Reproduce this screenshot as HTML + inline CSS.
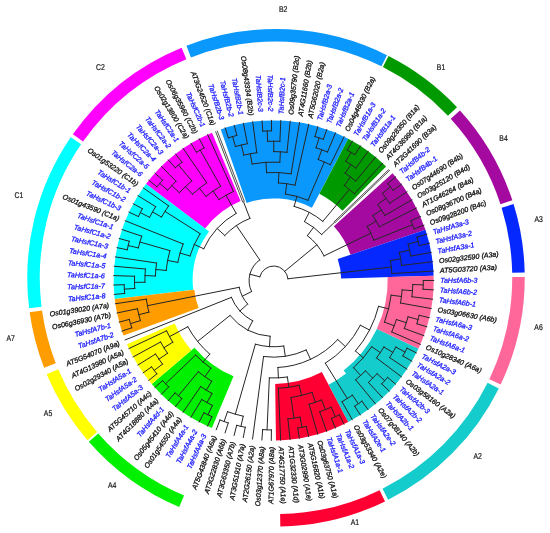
<!DOCTYPE html>
<html><head><meta charset="utf-8"><style>
html,body{margin:0;padding:0;background:#fff;}
body{width:550px;height:533px;overflow:hidden;}
svg{display:block;}
text{text-rendering:geometricPrecision;font-family:"Liberation Sans",Arial,sans-serif;font-size:7.1px;dominant-baseline:central;}
.k{fill:#111;stroke:#111;stroke-width:0.3px;font-style:italic;}
.b{fill:#2222ff;stroke:#2222ff;stroke-width:0.3px;font-style:italic;}
.i{font-style:italic;}
.e{text-anchor:end;}
.g{font-size:8.4px;fill:#111;stroke:#111;stroke-width:0.2px;text-anchor:middle;}
</style></head><body>
<svg width="550" height="533" viewBox="0 0 550 533">
<g><path d="M205.05 228.60L145.98 184.03A160.0 160.0 0 0 1 212.00 132.78L240.53 201.05A86 86 0 0 0 205.05 228.60Z" fill="#ff00ff"/><path d="M193.25 289.85L114.79 299.07A160.0 160.0 0 0 1 145.98 184.03L209.04 231.61A81 81 0 0 0 193.25 289.85Z" fill="#00ffff"/><path d="M246.57 203.02L220.77 129.41A160.0 160.0 0 0 1 348.28 138.85L311.92 207.85A82 82 0 0 0 246.57 203.02Z" fill="#0a98fc"/><path d="M319.38 193.70L348.28 138.85A160.0 160.0 0 0 1 386.06 166.49L342.52 210.63A98 98 0 0 0 319.38 193.70Z" fill="#009900"/><path d="M333.87 226.17L392.55 173.28A160.0 160.0 0 0 1 425.45 229.69L350.52 254.73A81 81 0 0 0 333.87 226.17Z" fill="#a50aa0"/><path d="M337.72 259.01L425.45 229.69A160.0 160.0 0 0 1 433.63 275.78L341.17 278.45A67.5 67.5 0 0 0 337.72 259.01Z" fill="#0528ff"/><path d="M387.65 277.11L433.63 275.78A160.0 160.0 0 0 1 418.40 348.68L376.80 329.05A114 114 0 0 0 387.65 277.11Z" fill="#ff6699"/><path d="M376.80 329.05L418.40 348.68A160.0 160.0 0 0 1 348.15 422.02L328.61 384.85A118 118 0 0 0 346.06 373.61L343.61 370.45A114 114 0 0 0 376.80 329.05Z" fill="#14cccc"/><path d="M321.86 372.01L348.15 422.02A160.0 160.0 0 0 1 275.97 440.38L275.17 383.89A103.5 103.5 0 0 0 321.86 372.01Z" fill="#ff0033"/><path d="M233.50 376.32L211.86 427.97A160.0 160.0 0 0 1 151.76 383.99L194.44 347.73A104 104 0 0 0 233.50 376.32Z" fill="#00f000"/><path d="M191.39 350.32L151.76 383.99A160.0 160.0 0 0 1 127.00 344.26L174.68 323.51A108 108 0 0 0 191.39 350.32Z" fill="#ffff00"/><path d="M198.60 307.97L123.50 335.54A160.0 160.0 0 0 1 114.79 299.07L194.25 289.74A80 80 0 0 0 198.60 307.97Z" fill="#ff9c00"/></g>
<g fill="none" stroke-width="12.5"><path d="M77.96 137.84A242.5 242.5 0 0 1 183.98 53.44" stroke="#ff00ff"/><path d="M188.70 51.56A242.5 242.5 0 0 1 384.20 60.78" stroke="#0a98fc"/><path d="M385.72 61.54A242.5 242.5 0 0 1 452.48 111.49" stroke="#009900"/><path d="M455.36 114.59A242.5 242.5 0 0 1 506.43 202.26" stroke="#a50aa0"/><path d="M507.59 205.89A242.5 242.5 0 0 1 518.45 272.72" stroke="#0528ff"/><path d="M518.50 276.95A242.5 242.5 0 0 1 495.06 381.82" stroke="#ff6699"/><path d="M493.21 385.62A242.5 242.5 0 0 1 385.34 494.25" stroke="#14cccc"/><path d="M382.31 495.76A242.5 242.5 0 0 1 280.23 520.26" stroke="#ff0033"/><path d="M181.64 501.19A242.5 242.5 0 0 1 93.54 437.53" stroke="#00f000"/><path d="M92.29 436.09A242.5 242.5 0 0 1 52.45 371.77" stroke="#ffff00"/><path d="M49.91 365.49A242.5 242.5 0 0 1 35.83 311.34" stroke="#ff9c00"/><path d="M35.33 307.56A242.5 242.5 0 0 1 75.91 140.80" stroke="#00ffff"/></g>
<path d="M259.76 276.79A14.400000000000006 14.400000000000006 0 0 1 288.01 278.77M259.76 276.79L249.69 274.19M259.75 259.90A24.799999999999983 24.799999999999983 0 0 0 251.56 291.57M259.75 259.90L236.35 225.50M224.78 235.50A66.39999999999999 66.39999999999999 0 0 1 249.90 218.41M224.78 235.50L217.12 228.47M203.73 248.75A76.8 76.8 0 0 1 236.17 213.40M203.73 248.75L194.25 244.46M189.99 255.97A87.2 87.2 0 0 1 200.08 233.66M189.99 255.97L180.01 253.05M183.14 244.00A97.6 97.6 0 0 0 177.78 262.37M183.14 244.00L125.24 220.73M177.78 262.37L167.56 260.45M169.89 250.62A108.0 108.0 0 0 0 166.16 270.45M169.89 250.62L139.90 242.01M138.34 247.94A139.2 139.2 0 0 1 141.72 236.16M138.34 247.94L128.22 245.52M127.26 249.80A149.6 149.6 0 0 1 129.31 241.26M127.26 249.80L117.08 247.67M129.31 241.26L119.27 238.54M141.72 236.16L122.00 229.55M166.16 270.45L155.80 269.50M155.38 276.00A118.4 118.4 0 0 1 156.58 263.03M155.38 276.00L144.99 275.61M144.91 282.23A128.8 128.8 0 0 1 145.40 269.01M144.91 282.23L134.51 282.38M134.74 288.50A139.2 139.2 0 0 1 134.56 276.25M134.74 288.50L124.35 289.11M124.67 293.49A149.6 149.6 0 0 1 124.16 284.72M124.67 293.49L114.31 294.40M124.16 284.72L113.77 285.02M134.56 276.25L113.77 275.63M145.40 269.01L114.33 266.25M156.58 263.03L115.43 256.92M200.08 233.66L164.96 211.37M161.56 217.04A128.8 128.8 0 0 1 168.65 205.87M161.56 217.04L152.51 211.93M149.61 217.33A139.2 139.2 0 0 1 155.64 206.66M149.61 217.33L140.34 212.62M138.40 216.56A149.6 149.6 0 0 1 142.38 208.73M138.40 216.56L129.00 212.12M142.38 208.73L133.26 203.75M155.64 206.66L138.00 195.64M168.65 205.87L143.20 187.82M236.17 213.40L226.00 195.25M218.92 199.62A97.6 97.6 0 0 1 233.43 191.49M218.92 199.62L213.08 191.02M205.92 196.32A108.0 108.0 0 0 1 220.66 186.32M205.92 196.32L199.39 188.22M192.51 194.22A118.4 118.4 0 0 1 206.71 182.78M192.51 194.22L185.38 186.65M179.38 192.68A128.8 128.8 0 0 1 191.76 181.02M179.38 192.68L171.77 185.60M167.69 190.18A139.2 139.2 0 0 1 176.04 181.21M167.69 190.18L159.77 183.44M156.98 186.83A149.6 149.6 0 0 1 162.67 180.14M156.98 186.83L148.86 180.32M162.67 180.14L154.95 173.17M176.04 181.21L161.45 166.38M191.76 181.02L178.53 164.98M175.18 167.82A149.6 149.6 0 0 1 181.96 162.23M175.18 167.82L168.33 159.99M181.96 162.23L175.58 154.02M206.71 182.78L183.17 148.48M220.66 186.32L200.23 150.08M196.44 152.30A149.6 149.6 0 0 1 204.09 147.98M196.44 152.30L191.07 143.39M204.09 147.98L199.25 138.78M233.43 191.49L207.69 134.65M249.90 218.41L243.60 201.98M251.56 291.57L242.27 296.25M239.19 287.31A35.19999999999999 35.19999999999999 0 0 0 247.62 304.04M239.19 287.31L147.41 305.70M148.88 312.15A128.8 128.8 0 0 1 146.28 299.18M148.88 312.15L138.80 314.72M140.44 320.62A139.2 139.2 0 0 1 137.42 308.74M140.44 320.62L130.48 323.63M131.81 327.81A149.6 149.6 0 0 1 129.27 319.41M131.81 327.81L121.95 331.11M129.27 319.41L119.23 322.12M137.42 308.74L117.05 312.98M146.28 299.18L115.41 303.73M247.62 304.04L239.91 311.02M231.37 297.37A45.599999999999994 45.599999999999994 0 0 0 252.67 320.86M231.37 297.37L125.19 339.93M252.67 320.86L247.87 330.09M230.01 315.43A56.0 56.0 0 0 0 270.14 336.29M230.01 315.43L197.55 341.45M187.81 326.76A97.6 97.6 0 0 0 209.76 354.14M187.81 326.76L169.51 336.64M172.76 342.29A118.4 118.4 0 0 1 166.57 330.83M172.76 342.29L163.90 347.73M167.50 353.28A128.8 128.8 0 0 1 160.59 342.00M167.50 353.28L158.93 359.16M162.50 364.14A139.2 139.2 0 0 1 155.57 354.03M162.50 364.14L154.20 370.40M156.89 373.86A149.6 149.6 0 0 1 151.61 366.85M156.89 373.86L148.77 380.36M151.61 366.85L143.12 372.86M155.57 354.03L137.92 365.04M160.59 342.00L133.18 356.92M166.57 330.83L128.94 348.54M209.76 354.14L202.95 362.00M195.63 355.03A108.0 108.0 0 0 0 210.89 368.25M195.63 355.03L165.57 383.78M168.65 386.91A149.6 149.6 0 0 1 162.58 380.56M168.65 386.91L161.34 394.31M162.58 380.56L154.85 387.52M210.89 368.25L204.84 376.71M198.29 371.68A118.4 118.4 0 0 0 211.72 381.28M198.29 371.68L178.42 395.74M181.85 398.48A149.6 149.6 0 0 1 175.08 392.89M181.85 398.48L175.46 406.69M175.08 392.89L168.22 400.71M211.72 381.28L206.27 390.14M200.72 386.53A128.8 128.8 0 0 0 212.00 393.46M200.72 386.53L183.05 412.24M212.00 393.46L207.01 402.59M201.70 399.53A139.2 139.2 0 0 0 212.46 405.40M201.70 399.53L190.94 417.33M212.46 405.40L207.88 414.74M203.97 412.75A149.6 149.6 0 0 0 211.85 416.62M203.97 412.75L199.12 421.95M211.85 416.62L207.55 426.09M270.14 336.29L269.48 346.67M255.39 344.23A66.39999999999999 66.39999999999999 0 0 0 283.76 346.03M255.39 344.23L235.31 414.20M243.23 416.22A139.2 139.2 0 0 1 227.53 411.72M243.23 416.22L240.96 426.37M245.25 427.27A149.6 149.6 0 0 1 236.68 425.35M245.25 427.27L243.28 437.48M236.68 425.35L234.11 435.42M227.53 411.72L224.08 421.53M228.24 422.93A149.6 149.6 0 0 1 219.95 420.01M228.24 422.93L225.08 432.83M219.95 420.01L216.22 429.72M283.76 346.03L285.33 356.31M263.55 356.53A76.8 76.8 0 0 0 306.19 349.99M263.55 356.53L252.55 439.00M306.19 349.99L310.58 359.42M277.90 367.50A87.2 87.2 0 0 0 337.77 339.55M277.90 367.50L278.40 377.89M269.36 377.90A97.6 97.6 0 0 0 287.40 377.03M269.36 377.90L267.04 429.85M271.43 429.98A149.6 149.6 0 0 1 262.66 429.59M271.43 429.98L271.28 440.38M262.66 429.59L261.89 439.96M287.40 377.03L288.86 387.33M278.40 388.30A108.0 108.0 0 0 0 299.17 385.35M278.40 388.30L280.67 440.25M299.17 385.35L301.62 395.46M290.96 397.53A118.4 118.4 0 0 0 312.05 392.42M290.96 397.53L294.00 418.11M287.91 418.87A139.2 139.2 0 0 0 300.04 417.09M287.91 418.87L290.04 439.56M300.04 417.09L302.01 427.30M306.31 426.40A149.6 149.6 0 0 1 297.68 428.06M306.31 426.40L308.58 436.55M297.68 428.06L299.35 438.33M312.05 392.42L315.42 402.26M309.10 404.24A128.8 128.8 0 0 0 321.62 399.95M309.10 404.24L317.68 434.24M321.62 399.95L325.49 409.61M319.75 411.76A139.2 139.2 0 0 0 331.13 407.20M319.75 411.76L326.63 431.39M331.13 407.20L335.42 416.68M339.39 414.80A149.6 149.6 0 0 1 331.39 418.43M339.39 414.80L343.96 424.15M331.39 418.43L335.40 428.02M337.77 339.55L345.41 346.61M325.33 363.23A97.6 97.6 0 0 0 360.38 325.26M325.33 363.23L347.33 398.53M352.46 395.17A139.2 139.2 0 0 1 342.06 401.66M352.46 395.17L358.35 403.75M361.93 401.21A149.6 149.6 0 0 1 354.69 406.18M361.93 401.21L368.07 409.61M354.69 406.18L360.32 414.93M342.06 401.66L352.28 419.78M360.38 325.26L369.62 330.04M355.43 351.00A108.0 108.0 0 0 0 378.54 306.35M355.43 351.00L363.30 357.80M371.75 346.77A118.4 118.4 0 0 1 353.61 367.76M371.75 346.77L380.36 352.60M383.93 347.02A128.8 128.8 0 0 1 376.52 357.98M383.93 347.02L392.83 352.40M395.89 347.09A139.2 139.2 0 0 1 389.55 357.58M395.89 347.09L405.02 352.07M407.06 348.18A149.6 149.6 0 0 1 402.85 355.89M407.06 348.18L416.33 352.90M402.85 355.89L411.83 361.14M389.55 357.58L406.86 369.11M376.52 357.98L401.42 376.77M353.61 367.76L360.63 375.44M365.40 370.85A128.8 128.8 0 0 1 355.64 379.78M365.40 370.85L372.80 378.15M377.01 373.69A139.2 139.2 0 0 1 368.40 382.42M377.01 373.69L384.73 380.66M387.63 377.36A149.6 149.6 0 0 1 381.74 383.88M387.63 377.36L395.55 384.10M381.74 383.88L389.25 391.07M368.40 382.42L382.56 397.66M355.64 379.78L375.49 403.85M378.54 306.35L388.63 308.85M391.17 295.19A118.4 118.4 0 0 1 384.50 322.12M391.17 295.19L401.49 296.49M402.15 289.91A128.8 128.8 0 0 1 400.50 303.03M402.15 289.91L412.52 290.67M412.84 284.55A139.2 139.2 0 0 1 411.93 296.77M412.84 284.55L423.23 284.86M423.30 280.47A149.6 149.6 0 0 1 423.04 289.25M423.30 280.47L433.70 280.47M423.04 289.25L433.42 289.86M411.93 296.77L432.59 299.22M400.50 303.03L431.21 308.51M384.50 322.12L394.24 325.79M396.41 319.54A128.8 128.8 0 0 1 391.75 331.92M396.41 319.54L406.32 322.70M408.05 316.82A139.2 139.2 0 0 1 404.33 328.50M408.05 316.82L418.09 319.54M419.18 315.28A149.6 149.6 0 0 1 416.88 323.76M419.18 315.28L429.29 317.71M416.88 323.76L426.83 326.78M404.33 328.50L423.85 335.68M391.75 331.92L420.34 344.40M284.81 271.24L316.91 244.78M307.36 235.64A56.0 56.0 0 0 1 324.06 255.90M307.36 235.64L313.61 227.33M304.46 221.56A66.39999999999999 66.39999999999999 0 0 1 321.70 234.52M304.46 221.56L309.28 212.34M294.13 206.37A76.8 76.8 0 0 1 322.83 221.37M294.13 206.37L296.90 196.34M285.39 193.99A87.2 87.2 0 0 1 307.99 200.23M285.39 193.99L286.78 183.68M278.40 182.91A97.6 97.6 0 0 1 295.06 185.17M278.40 182.91L278.90 172.53M266.62 172.63A108.0 108.0 0 0 1 291.11 173.81M266.62 172.63L265.94 162.25M252.15 163.98A118.4 118.4 0 0 1 279.84 162.16M252.15 163.98L250.26 153.75M243.78 155.12A128.8 128.8 0 0 1 256.79 152.71M243.78 155.12L241.37 145.01M235.44 146.56A139.2 139.2 0 0 1 247.36 143.71M235.44 146.56L232.58 136.56M228.37 137.83A149.6 149.6 0 0 1 236.82 135.42M228.37 137.83L225.22 127.92M236.82 135.42L234.25 125.34M247.36 143.71L243.42 123.29M256.79 152.71L252.70 121.78M279.84 162.16L280.37 151.77M273.76 151.60A128.8 128.8 0 0 1 286.97 152.29M273.76 151.60L273.76 141.20M267.64 141.33A139.2 139.2 0 0 1 279.89 141.34M267.64 141.33L267.18 130.94M262.80 131.20A149.6 149.6 0 0 1 271.57 130.82M262.80 131.20L262.04 120.83M271.57 130.82L271.43 120.42M279.89 141.34L280.82 120.56M286.97 152.29L290.19 121.25M291.11 173.81L299.50 122.49M295.06 185.17L308.72 124.28M307.99 200.23L324.35 161.98M318.20 159.53A128.8 128.8 0 0 1 330.37 164.74M318.20 159.53L321.80 149.77M316.00 147.78A139.2 139.2 0 0 1 327.50 152.02M316.00 147.78L319.16 137.87M314.96 136.60A149.6 149.6 0 0 1 323.32 139.27M314.96 136.60L317.82 126.60M323.32 139.27L326.77 129.46M327.50 152.02L335.54 132.83M330.37 164.74L344.09 136.72M322.83 221.37L349.44 189.40M344.32 185.37A118.4 118.4 0 0 1 354.33 193.70M344.32 185.37L350.52 177.02M345.11 173.21A128.8 128.8 0 0 1 355.73 181.10M345.11 173.21L350.88 164.55M345.70 161.27A139.2 139.2 0 0 1 355.90 168.06M345.70 161.27L351.08 152.37M347.29 150.15A149.6 149.6 0 0 1 354.81 154.69M347.29 150.15L352.40 141.10M354.81 154.69L360.44 145.96M355.90 168.06L368.19 151.28M355.73 181.10L375.60 157.05M354.33 193.70L382.66 163.24M321.70 234.52L334.42 222.35M324.06 255.90L370.82 233.15M367.19 226.33A108.0 108.0 0 0 1 373.95 240.22M367.19 226.33L376.19 221.12M372.78 215.57A118.4 118.4 0 0 1 379.30 226.85M372.78 215.57L381.48 209.88M377.71 204.44A128.8 128.8 0 0 1 384.96 215.51M377.71 204.44L386.11 198.30M382.39 193.43A139.2 139.2 0 0 1 389.62 203.33M382.39 193.43L390.51 186.94M387.72 183.55A149.6 149.6 0 0 1 393.20 190.40M387.72 183.55L395.64 176.81M393.20 190.40L401.51 184.15M389.62 203.33L406.94 191.81M384.96 215.51L411.91 199.79M379.30 226.85L416.40 208.04M373.95 240.22L412.56 224.74M410.87 220.69A149.6 149.6 0 0 1 414.13 228.84M410.87 220.69L420.40 216.54M414.13 228.84L423.90 225.26M288.01 278.77L391.34 267.01M390.43 260.56A118.4 118.4 0 0 1 391.90 273.51M390.43 260.56L400.68 258.82M399.40 252.32A128.8 128.8 0 0 1 401.62 265.37M399.40 252.32L409.55 250.06M408.09 244.11A139.2 139.2 0 0 1 410.76 256.07M408.09 244.11L418.13 241.39M416.92 237.17A149.6 149.6 0 0 1 419.21 245.65M416.92 237.17L426.87 234.17M419.21 245.65L429.32 243.24M410.76 256.07L431.24 252.43M401.62 265.37L432.61 261.73M391.90 273.51L433.43 271.08" fill="none" stroke="#262626" stroke-width="1.0" stroke-linecap="square"/>
<path d="M242.80 202.28L215.56 131.33M244.39 201.68L217.15 130.72M334.00 221.92L388.94 169.40M334.83 222.79L389.77 170.27" fill="none" stroke="#222" stroke-width="0.8"/>
<g><text class="b" transform="translate(281.11 114.06) rotate(-87.45)" y="0.3">TaHsfB2c-1</text><text class="k" transform="translate(290.86 114.79) rotate(-84.09)" y="0.3">Os09g35790 <tspan class="i">(B2c)</tspan></text><text class="k" transform="translate(300.55 116.08) rotate(-80.72)" y="0.3">AT4G11660 <tspan class="i">(B2b)</tspan></text><text class="k" transform="translate(310.14 117.94) rotate(-77.36)" y="0.3">AT5G62020 <tspan class="i">(B2a)</tspan></text><text class="b" transform="translate(319.62 120.36) rotate(-73.99)" y="0.3">TaHsfB2a-3</text><text class="b" transform="translate(328.93 123.33) rotate(-70.63)" y="0.3">TaHsfB2a-2</text><text class="b" transform="translate(338.05 126.84) rotate(-67.26)" y="0.3">TaHsfB2a-1</text><text class="k" transform="translate(346.95 130.88) rotate(-63.90)" y="0.3">Os04g46030 <tspan class="i">(B2a)</tspan></text><text class="b" transform="translate(355.60 135.44) rotate(-60.53)" y="0.3">TaHsfB1a-3</text><text class="b" transform="translate(363.97 140.49) rotate(-57.17)" y="0.3">TaHsfB1a-2</text><text class="b" transform="translate(372.02 146.03) rotate(-53.81)" y="0.3">TaHsfB1a-1</text><text class="k" transform="translate(379.74 152.03) rotate(-50.44)" y="0.3">Os09g28350 <tspan class="i">(B1a)</tspan></text><text class="k" transform="translate(387.09 158.48) rotate(-47.08)" y="0.3">AT4G36990 <tspan class="i">(B1a)</tspan></text><text class="k" transform="translate(394.05 165.34) rotate(-43.71)" y="0.3">AT2G41690 <tspan class="i">(B3a)</tspan></text><text class="b" transform="translate(400.60 172.60) rotate(-40.35)" y="0.3">TaHsfB4b-2</text><text class="b" transform="translate(406.70 180.24) rotate(-36.98)" y="0.3">TaHsfB4b-1</text><text class="k" transform="translate(412.35 188.22) rotate(-33.62)" y="0.3">Os07g44690 <tspan class="i">(B4b)</tspan></text><text class="k" transform="translate(417.52 196.51) rotate(-30.25)" y="0.3">Os03g25120 <tspan class="i">(B4d)</tspan></text><text class="k" transform="translate(422.20 205.10) rotate(-26.89)" y="0.3">AT1G46264 <tspan class="i">(B4a)</tspan></text><text class="k" transform="translate(426.36 213.94) rotate(-23.52)" y="0.3">Os08g36700 <tspan class="i">(B4a)</tspan></text><text class="k" transform="translate(430.00 223.02) rotate(-20.16)" y="0.3">Os09g28200 <tspan class="i">(B4c)</tspan></text><text class="b" transform="translate(433.10 232.29) rotate(-16.80)" y="0.3">TaHsfA3a-3</text><text class="b" transform="translate(435.65 241.73) rotate(-13.43)" y="0.3">TaHsfA3a-2</text><text class="b" transform="translate(437.64 251.30) rotate(-10.07)" y="0.3">TaHsfA3a-1</text><text class="k" transform="translate(439.06 260.97) rotate(-6.70)" y="0.3">Os02g32590 <tspan class="i">(A3a)</tspan></text><text class="k" transform="translate(439.92 270.71) rotate(-3.34)" y="0.3">AT5G03720 <tspan class="i">(A3a)</tspan></text><text class="b" transform="translate(440.20 280.48) rotate(0.03)" y="0.3">TaHsfA6b-3</text><text class="b" transform="translate(439.91 290.25) rotate(3.39)" y="0.3">TaHsfA6b-2</text><text class="b" transform="translate(439.04 299.99) rotate(6.76)" y="0.3">TaHsfA6b-1</text><text class="k" transform="translate(437.61 309.66) rotate(10.12)" y="0.3">Os03g06630 <tspan class="i">(A6b)</tspan></text><text class="b" transform="translate(435.61 319.23) rotate(13.48)" y="0.3">TaHsfA6a-3</text><text class="b" transform="translate(433.05 328.66) rotate(16.85)" y="0.3">TaHsfA6a-2</text><text class="b" transform="translate(429.95 337.93) rotate(20.21)" y="0.3">TaHsfA6a-1</text><text class="k" transform="translate(426.30 347.00) rotate(23.58)" y="0.3">Os10g28340 <tspan class="i">(A6a)</tspan></text><text class="b" transform="translate(422.13 355.84) rotate(26.94)" y="0.3">TaHsfA2a-3</text><text class="b" transform="translate(417.45 364.42) rotate(30.31)" y="0.3">TaHsfA2a-2</text><text class="b" transform="translate(412.27 372.71) rotate(33.67)" y="0.3">TaHsfA2a-1</text><text class="k" transform="translate(406.61 380.69) rotate(37.04)" y="0.3">Os03g58160 <tspan class="i">(A2a)</tspan></text><text class="b" transform="translate(400.50 388.31) rotate(40.40)" y="0.3">TaHsfA2b-3</text><text class="b" transform="translate(393.94 395.57) rotate(43.76)" y="0.3">TaHsfA2b-2</text><text class="b" transform="translate(386.98 402.43) rotate(47.13)" y="0.3">TaHsfA2b-1</text><text class="k" transform="translate(379.62 408.86) rotate(50.49)" y="0.3">Os07g08140 <tspan class="i">(A2b)</tspan></text><text class="b" transform="translate(371.90 414.86) rotate(53.86)" y="0.3">TaHsfA2e-2</text><text class="b" transform="translate(363.84 420.39) rotate(57.22)" y="0.3">TaHsfA2e-1</text><text class="k" transform="translate(355.47 425.44) rotate(60.59)" y="0.3">Os03g53340 <tspan class="i">(A2e)</tspan></text><text class="b" transform="translate(346.81 429.99) rotate(63.95)" y="0.3">TaHsfA1a-3</text><text class="b" transform="translate(337.91 434.02) rotate(67.32)" y="0.3">TaHsfA1a-2</text><text class="b" transform="translate(328.78 437.52) rotate(70.68)" y="0.3">TaHsfA1a-1</text><text class="k" transform="translate(319.47 440.49) rotate(74.05)" y="0.3">Os03g63750 <tspan class="i">(A1a)</tspan></text><text class="k" transform="translate(309.99 442.90) rotate(77.41)" y="0.3">AT5G16820 <tspan class="i">(A1b)</tspan></text><text class="k" transform="translate(300.39 444.75) rotate(80.77)" y="0.3">AT3G02990 <tspan class="i">(A1e)</tspan></text><text class="k" transform="translate(290.70 446.03) rotate(84.14)" y="0.3">AT1G32330 <tspan class="i">(A1d)</tspan></text><text class="k" transform="translate(280.95 446.74) rotate(87.50)" y="0.3">AT4G17750 <tspan class="i">(A1e)</tspan></text><text class="k e" transform="translate(271.18 446.88) rotate(270.87)" y="1.0">AT1G67970 <tspan class="i">(A8a)</tspan></text><text class="k e" transform="translate(261.41 446.45) rotate(274.23)" y="1.0">Os03g12370 <tspan class="i">(A8a)</tspan></text><text class="k e" transform="translate(251.69 445.44) rotate(277.60)" y="1.0">AT2G26150 <tspan class="i">(A2a)</tspan></text><text class="k e" transform="translate(242.04 443.86) rotate(280.96)" y="1.0">AT3G51910 <tspan class="i">(A7a)</tspan></text><text class="k e" transform="translate(232.50 441.72) rotate(284.33)" y="1.0">AT3G63350 <tspan class="i">(A7b)</tspan></text><text class="k e" transform="translate(223.11 439.03) rotate(287.69)" y="1.0">AT3G22830 <tspan class="i">(A6b)</tspan></text><text class="k e" transform="translate(213.88 435.78) rotate(291.05)" y="1.0">AT5G43840 <tspan class="i">(A6a)</tspan></text><text class="b e" transform="translate(203.83 434.28) rotate(294.42)" y="1.0">TaHsfA4a-3</text><text class="b e" transform="translate(194.92 429.92) rotate(297.78)" y="1.0">TaHsfA4a-2</text><text class="b e" transform="translate(186.28 425.04) rotate(301.15)" y="1.0">TaHsfA4a-1</text><text class="k e" transform="translate(179.36 417.60) rotate(304.51)" y="1.0">Os01g54550 <tspan class="i">(A4a)</tspan></text><text class="k e" transform="translate(171.47 411.82) rotate(307.88)" y="1.0">Os05g45410 <tspan class="i">(A4d)</tspan></text><text class="b e" transform="translate(162.29 407.48) rotate(311.24)" y="1.0">TaHsfA4d-1</text><text class="k e" transform="translate(156.78 398.94) rotate(314.61)" y="1.0">AT4G18880 <tspan class="i">(A4a)</tspan></text><text class="k e" transform="translate(150.02 391.87) rotate(317.97)" y="1.0">AT5G45710 <tspan class="i">(A4c)</tspan></text><text class="b e" transform="translate(141.74 385.99) rotate(321.34)" y="1.0">TaHsfA5a-3</text><text class="b e" transform="translate(135.77 378.06) rotate(324.70)" y="1.0">TaHsfA5a-2</text><text class="b e" transform="translate(130.28 369.80) rotate(328.06)" y="1.0">TaHsfA5a-1</text><text class="k e" transform="translate(127.48 360.03) rotate(331.43)" y="1.0">Os02g29340 <tspan class="i">(A5a)</tspan></text><text class="k e" transform="translate(123.05 351.31) rotate(334.79)" y="1.0">AT4G13980 <tspan class="i">(A5a)</tspan></text><text class="k e" transform="translate(119.15 342.35) rotate(338.16)" y="1.0">AT5G54070 <tspan class="i">(A9a)</tspan></text><text class="b e" transform="translate(113.41 333.96) rotate(341.52)" y="1.0">TaHsfA7b-2</text><text class="b e" transform="translate(110.55 324.46) rotate(344.89)" y="1.0">TaHsfA7b-1</text><text class="k e" transform="translate(110.69 314.30) rotate(348.25)" y="1.0">Os06g36930 <tspan class="i">(A7b)</tspan></text><text class="k e" transform="translate(108.98 304.68) rotate(351.62)" y="1.0">Os01g39020 <tspan class="i">(A7a)</tspan></text><text class="b e" transform="translate(105.35 295.19) rotate(354.98)" y="1.0">TaHsfC1a-8</text><text class="b e" transform="translate(104.77 285.28) rotate(358.34)" y="1.0">TaHsfC1a-7</text><text class="b e" transform="translate(104.78 275.36) rotate(1.71)" y="1.0">TaHsfC1a-6</text><text class="b e" transform="translate(105.36 265.46) rotate(5.07)" y="1.0">TaHsfC1a-5</text><text class="b e" transform="translate(106.53 255.60) rotate(8.44)" y="1.0">TaHsfC1a-4</text><text class="b e" transform="translate(108.27 245.83) rotate(11.80)" y="1.0">TaHsfC1a-3</text><text class="b e" transform="translate(110.59 236.18) rotate(15.17)" y="1.0">TaHsfC1a-2</text><text class="b e" transform="translate(113.46 226.69) rotate(18.53)" y="1.0">TaHsfC1a-1</text><text class="k e" transform="translate(119.21 218.31) rotate(21.90)" y="1.0">Os01g43590 <tspan class="i">(C1a)</tspan></text><text class="b e" transform="translate(120.86 208.28) rotate(25.26)" y="1.0">TaHsfC1b-3</text><text class="b e" transform="translate(125.36 199.44) rotate(28.62)" y="1.0">TaHsfC1b-2</text><text class="b e" transform="translate(130.36 190.87) rotate(31.99)" y="1.0">TaHsfC1b-1</text><text class="k e" transform="translate(137.90 184.06) rotate(35.35)" y="1.0">Os01g53220 <tspan class="i">(C1b)</tspan></text><text class="b e" transform="translate(141.84 174.69) rotate(38.72)" y="1.0">TaHsfC2a-6</text><text class="b e" transform="translate(148.27 167.14) rotate(42.08)" y="1.0">TaHsfC2a-5</text><text class="b e" transform="translate(155.14 159.97) rotate(45.45)" y="1.0">TaHsfC2a-4</text><text class="b e" transform="translate(162.41 153.22) rotate(48.81)" y="1.0">TaHsfC2a-3</text><text class="b e" transform="translate(170.06 146.91) rotate(52.18)" y="1.0">TaHsfC2a-2</text><text class="b e" transform="translate(178.08 141.05) rotate(55.54)" y="1.0">TaHsfC2a-1</text><text class="k e" transform="translate(187.71 137.82) rotate(58.91)" y="1.0">Os02g13800 <tspan class="i">(C2a)</tspan></text><text class="k e" transform="translate(196.23 133.02) rotate(62.27)" y="1.0">Os06g35960 <tspan class="i">(C2b)</tspan></text><text class="b e" transform="translate(203.98 126.45) rotate(65.63)" y="1.0">TaHsfC2b-1</text><text class="k e" transform="translate(214.03 124.96) rotate(69.00)" y="1.0">AT3G24520 <tspan class="i">(C1a)</tspan></text><text class="b e" transform="translate(222.50 119.34) rotate(72.36)" y="1.0">TaHsfB2b-3</text><text class="b e" transform="translate(232.04 116.62) rotate(75.73)" y="1.0">TaHsfB2b-2</text><text class="b e" transform="translate(241.72 114.45) rotate(79.09)" y="1.0">TaHsfB2b-1</text><text class="k e" transform="translate(251.84 115.34) rotate(82.46)" y="1.0">Os08g43334 <tspan class="i">(B2b)</tspan></text><text class="b e" transform="translate(261.38 111.85) rotate(85.82)" y="1.0">TaHsfB2c-3</text><text class="b e" transform="translate(271.30 111.42) rotate(89.19)" y="1.0">TaHsfB2c-2</text></g>
<g><text class="g" transform="translate(283.2 9.3) scale(0.82 1)">B2</text><text class="g" transform="translate(441 66.5) scale(0.82 1)">B1</text><text class="g" transform="translate(503.5 137.6) scale(0.82 1)">B4</text><text class="g" transform="translate(538.6 218.8) scale(0.82 1)">A3</text><text class="g" transform="translate(538.5 326.5) scale(0.82 1)">A6</text><text class="g" transform="translate(477.7 455.5) scale(0.82 1)">A2</text><text class="g" transform="translate(354.9 521.5) scale(0.82 1)">A1</text><text class="g" transform="translate(112.2 484.9) scale(0.82 1)">A4</text><text class="g" transform="translate(48 413.2) scale(0.82 1)">A5</text><text class="g" transform="translate(10.7 337.9) scale(0.82 1)">A7</text><text class="g" transform="translate(19 194.5) scale(0.82 1)">C1</text><text class="g" transform="translate(100.5 67) scale(0.82 1)">C2</text></g>
</svg>
</body></html>
